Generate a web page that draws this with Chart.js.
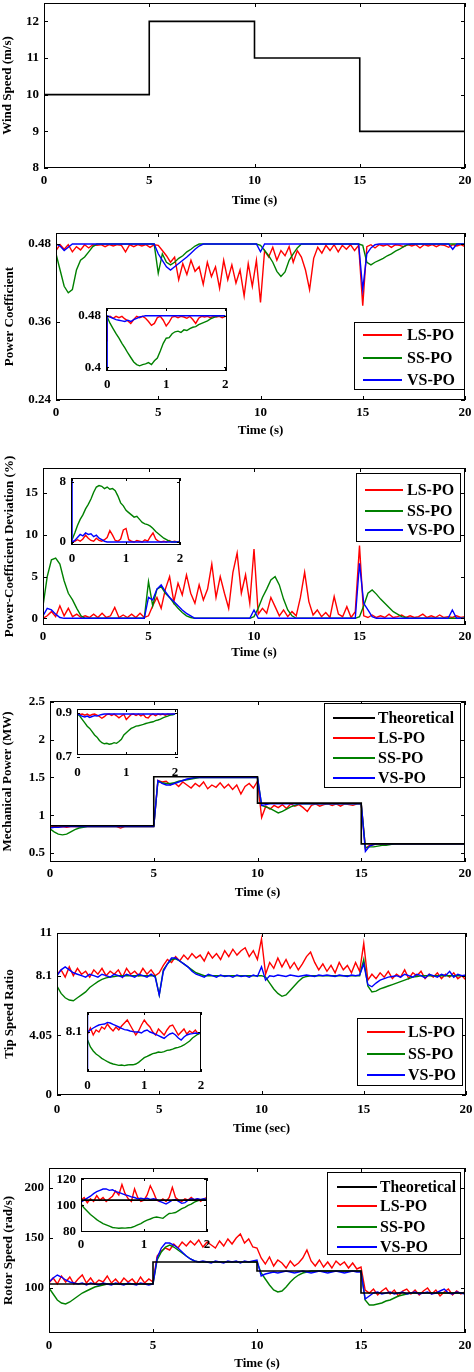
<!DOCTYPE html>
<html lang="en">
<head>
<meta charset="UTF-8">
<title>MPPT comparison - LS-PO / SS-PO / VS-PO</title>
<script src="https://cdn.jsdelivr.net/npm/chart.js"></script>
<style>
  body { margin: 0; background: #fff; }
  #wrap { position: relative; width: 474px; height: 1372px; overflow: hidden; background: #fff; }
  #wrap canvas { position: absolute; }
</style>
</head>
<body>
<div id="wrap"></div>
<script>
// ---------- data ----------
const mainStep = 0.2;   // s between samples of the main traces (0..20 s)
const insetStep = 0.05; // s between samples of the zoomed traces (0..2 s)

const timeTicks = [0, 5, 10, 15, 20];
const insetTimeTicks = [0, 1, 2];

// wind speed profile
const windTimes = [0, 5, 10, 15, 20];
const windValues = [10, 12, 11, 9, 9];
const windTicks = [8, 9, 10, 11, 12];

// power coefficient
const pcTicks = [0.24, 0.36, 0.48];
const pcLS = [
  0.47,0.479,0.472,0.479,0.468,0.476,0.471,0.479,0.474,0.479,0.478,0.479,0.476,0.479,0.477,0.479,0.478,0.468,0.479,0.476,0.479,0.477,0.479,0.475,0.479,0.478,
  0.47,0.462,0.452,0.46,0.425,0.45,0.433,0.455,0.438,0.445,0.418,0.452,0.43,0.445,0.412,0.455,0.425,0.448,0.42,0.44,0.40,0.45,0.415,0.455,0.39,
  0.47,0.46,0.475,0.455,0.47,0.462,0.476,0.452,0.47,0.46,0.44,0.41,0.458,0.475,0.466,0.478,0.47,0.479,0.468,0.478,0.472,0.479,0.47,0.478,0.385,
  0.476,0.479,0.474,0.479,0.477,0.479,0.475,0.479,0.478,0.476,0.479,0.477,0.479,0.474,0.479,0.477,0.479,0.476,0.479,0.478,0.475,0.479,0.477,0.479,0.476
];
const pcSS = [
  0.465,0.44,0.415,0.405,0.41,0.44,0.455,0.46,0.468,0.476,0.48,
  0.48,0.48,0.48,0.48,0.48,0.48,0.48,0.48,0.48,0.48,0.48,0.48,0.48,0.48,
  0.435,
  0.465,0.452,0.448,0.452,0.458,0.462,0.468,0.472,0.477,0.48,
  0.48,0.48,0.48,0.48,0.48,0.48,0.48,0.48,0.48,0.48,0.48,0.48,0.48,0.48,
  0.478,0.47,0.462,0.452,0.438,0.43,0.437,0.455,0.465,0.474,0.48,
  0.48,0.48,0.48,0.48,0.48,0.48,0.48,0.48,0.48,0.48,0.48,0.48,0.48,0.48,
  0.478,0.452,0.448,0.452,0.455,0.458,0.462,0.465,0.469,0.472,0.476,0.479,
  0.48,0.48,0.48,0.48,0.48,0.48,0.48,0.48,0.48,0.48,0.48,0.48,0.48,0.48
];
const pcVSStart = [0.24];
const pcVS = [
  0.48,0.477,0.47,0.475,0.48,
  0.48,0.48,0.48,0.48,0.48,0.48,0.48,0.48,0.48,0.48,0.48,0.48,0.48,0.48,0.48,0.48,0.48,0.48,0.48,0.48,
  0.465,0.455,0.445,0.44,0.445,0.45,0.455,0.46,0.466,0.472,0.477,0.48,
  0.48,0.48,0.48,0.48,0.48,0.48,0.48,0.48,0.48,0.48,0.48,0.48,0.48,
  0.468,0.48,
  0.48,0.48,0.48,0.48,0.48,0.48,0.48,0.48,0.48,0.48,0.48,0.48,0.48,0.48,0.48,0.48,0.48,0.48,0.48,0.48,0.48,0.48,0.48,
  0.41,0.465,0.474,0.479,
  0.48,0.48,0.48,0.48,0.48,0.48,0.48,0.48,0.48,0.48,0.48,0.48,0.48,0.48,0.48,0.48,0.48,0.48,
  0.472,
  0.48,0.48,0.48
];
const pcInTicks = [0.4, 0.48];
const pcInLSStart = [0.44];
const pcInLS = [0.478,0.479,0.476,0.479,0.477,0.479,0.475,0.472,0.468,0.474,0.479,0.477,0.479,0.476,0.471,0.465,0.468,0.477,0.479,0.473,0.464,0.47,0.478,0.479,0.477,0.479,0.478,0.476,0.479,0.474,0.468,0.476,0.479,0.478,0.479,0.477,0.479,0.478,0.479,0.477,0.479];
const pcInSS = [0.478,0.468,0.46,0.452,0.445,0.437,0.43,0.422,0.415,0.408,0.404,0.402,0.404,0.405,0.407,0.404,0.41,0.414,0.425,0.437,0.445,0.446,0.452,0.455,0.456,0.454,0.458,0.457,0.46,0.462,0.463,0.466,0.468,0.47,0.472,0.475,0.477,0.479,0.48,0.48,0.48];
const pcInVSStart = [0.394];
const pcInVS = [0.48,0.478,0.476,0.474,0.473,0.472,0.471,0.473,0.471,0.474,0.476,0.478,0.479,0.48,0.48,0.48,0.48,0.48,0.48,0.48,0.48,0.48,0.48,0.48,0.48,0.48,0.48,0.48,0.48,0.48,0.48,0.48,0.48,0.48,0.48,0.48,0.48,0.48,0.48,0.48,0.48];

// power-coefficient deviation (%)
const devTicks = [0, 5, 10, 15];
const devLS = [
  0,0.3,0.8,0.2,1.5,0.3,1.2,0.2,0.5,0.1,0.3,0.1,0.5,0.1,0.6,0.1,0.3,1.3,0.1,0.4,0.1,0.5,0.1,0.6,0.1,0.3,
  1.5,2.5,1.2,3.5,5.0,2.0,4.2,2.8,5.2,3.0,1.8,4.0,2.2,3.5,6.5,2.5,5.0,3.0,1.2,5.5,7.8,3.0,5.2,1.8,8.3,
  0.5,1.2,0.6,2.5,1.4,0.3,1.0,0.2,0.8,0.3,2.5,5.5,2.0,0.4,1.0,0.2,0.7,0.1,2.6,0.5,0.2,1.4,0.1,0.8,8.7,
  0.3,0.1,0.4,0.1,0.3,0.1,0.5,0.1,0.2,0.4,0.1,0.3,0.1,0.2,0.5,0.1,0.3,0.1,0.4,0.1,0.2,0.1,0.3,0.1,0.2
];
const devSS = [
  1.5,5.0,7.0,7.2,6.5,4.5,3.0,2.2,1.2,0.3,0,
  0,0,0,0,0,0,0,0,0,0,0,0,0,0,
  4.4,1.5,3.5,3.8,3.0,2.5,1.8,1.2,0.7,0.3,0.1,
  0,0,0,0,0,0,0,0,0,0,0,0,0,0,
  0.2,1.2,2.5,3.5,4.6,5.0,4.0,2.3,1.0,0.3,0,
  0,0,0,0,0,0,0,0,0,0,0,0,0,0,
  0.2,1.5,3.0,3.4,2.9,2.3,1.8,1.3,0.8,0.5,0.2,0.1,
  0,0,0,0,0,0,0,0,0,0,0,0,0,0
];
const devVSStart = [6.5];
const devVS = [
  0.3,1.2,1.0,0.5,0.1,
  0,0,0,0,0,0,0,0,0,0,0,0,0,0,0,0,0,0,0,0,
  2.5,2.2,3.5,4.0,3.2,2.5,2.0,1.5,1.0,0.6,0.3,0,
  0,0,0,0,0,0,0,0,0,0,0,0,0,
  1.0,
  0,0,0,0,0,0,0,0,0,0,0,0,0,0,0,0,0,0,0,0,0,0,0,0,
  6.6,1.8,1.0,0.2,
  0,0,0,0,0,0,0,0,0,0,0,0,0,0,0,0,0,0,
  1.0,
  0,0,0
];
const devInTicks = [0, 8];
const devInLS = [0,0.1,0.3,0.1,0.4,0.9,0.5,0.2,0.1,0.5,0.2,0.1,0.3,0.6,1.5,0.9,0.2,0.1,0.4,1.6,1.8,0.3,0.1,0,0.2,0.1,0,0.3,0.1,0.7,1.2,0.4,0.1,0,0.1,0,0.2,0,0.1,0,0.1];
const devInSS = [0.3,1.2,2.2,3.0,3.6,4.4,5.0,5.7,6.6,7.3,7.5,7.4,7.1,7.3,7.0,7.1,6.8,6.1,5.2,4.8,4.2,3.9,3.6,3.3,3.4,3.0,2.6,2.4,2.3,2.1,1.8,1.4,1.1,0.8,0.5,0.3,0.1,0.05,0,0,0];
const devInVSStart = [8.5];
const devInVS = [0,0.2,0.6,1.0,0.8,1.2,1.0,1.1,0.7,0.9,0.5,0.3,0.1,0,0,0,0,0,0,0,0,0,0,0,0,0,0,0,0,0,0,0,0,0,0,0,0,0,0,0,0];

// mechanical power (MW)
const mpTicks = [0.5, 1, 1.5, 2, 2.5];
const mpTheoTimes = [0, 5, 10, 15, 20];
const mpTheo = [0.86, 1.51, 1.16, 0.62, 0.62];
const mpLS = [
  0.84,0.85,0.845,0.85,0.84,0.85,0.85,0.848,0.85,0.85,0.85,0.85,0.85,0.85,0.85,0.85,0.85,0.83,0.85,0.85,0.85,0.85,0.85,0.85,0.85,0.85,
  1.46,1.44,1.45,1.40,1.43,1.38,1.44,1.40,1.36,1.42,1.38,1.44,1.35,1.40,1.37,1.43,1.36,1.41,1.34,1.40,1.28,1.38,1.42,1.36,1.45,
  0.97,1.12,1.08,1.13,1.10,1.14,1.09,1.15,1.12,1.14,1.10,1.05,1.13,1.15,1.12,1.14,1.15,1.13,1.15,1.12,1.15,1.14,1.13,1.15,1.15,
  0.56,0.60,0.61,0.62,0.62,0.62,0.62,0.62,0.62,0.62,0.62,0.62,0.62,0.62,0.62,0.62,0.62,0.62,0.62,0.62,0.62,0.62,0.62,0.62,0.62
];
const mpSS = [
  0.82,0.78,0.75,0.74,0.75,0.78,0.81,0.83,0.84,0.85,
  0.85,0.85,0.85,0.85,0.85,0.85,0.85,0.85,0.85,0.85,0.85,0.85,0.85,0.85,0.85,0.85,
  1.45,1.43,1.42,1.42,1.43,1.45,1.46,1.47,1.48,1.49,
  1.5,1.5,1.5,1.5,1.5,1.5,1.5,1.5,1.5,1.5,1.5,1.5,1.5,1.5,1.5,
  1.13,1.11,1.09,1.06,1.03,1.05,1.08,1.11,1.13,1.15,
  1.15,1.15,1.15,1.15,1.15,1.15,1.15,1.15,1.15,1.15,1.15,1.15,1.15,1.15,1.15,
  0.57,0.58,0.58,0.59,0.6,0.6,0.61,0.62,
  0.62,0.62,0.62,0.62,0.62,0.62,0.62,0.62,0.62,0.62,0.62,0.62,0.62,0.62,0.62,0.62,0.62
];
const mpVS = [
  0.83,0.84,0.84,0.845,0.85,
  0.85,0.85,0.85,0.85,0.85,0.85,0.85,0.85,0.85,0.85,0.85,0.85,0.85,0.85,0.85,0.85,0.85,0.85,0.85,0.85,0.85,
  1.46,1.42,1.40,1.40,1.42,1.44,1.46,1.48,1.49,
  1.5,1.5,1.5,1.5,1.5,1.5,1.5,1.5,1.5,1.5,1.5,1.5,1.5,1.5,1.5,1.5,
  1.13,1.14,
  1.15,1.15,1.15,1.15,1.15,1.15,1.15,1.15,1.15,1.15,1.15,1.15,1.15,1.15,1.15,1.15,1.15,1.15,1.15,1.15,1.15,1.15,1.15,
  0.52,0.59,0.61,
  0.62,0.62,0.62,0.62,0.62,0.62,0.62,0.62,0.62,0.62,0.62,0.62,0.62,0.62,0.62,0.62,0.62,0.62,0.62,0.62,0.62,0.62
];
const mpInTicks = [0.7, 0.9];
const mpInLS = [0.895,0.893,0.895,0.89,0.895,0.888,0.893,0.895,0.89,0.884,0.876,0.883,0.893,0.895,0.889,0.895,0.887,0.878,0.886,0.894,0.87,0.882,0.893,0.895,0.889,0.895,0.887,0.893,0.88,0.877,0.89,0.895,0.888,0.895,0.892,0.895,0.89,0.895,0.893,0.895,0.894];
const mpInSS = [0.895,0.885,0.87,0.855,0.84,0.83,0.815,0.80,0.79,0.775,0.765,0.76,0.762,0.758,0.76,0.765,0.762,0.77,0.78,0.8,0.81,0.82,0.83,0.835,0.84,0.842,0.845,0.848,0.852,0.855,0.858,0.86,0.865,0.868,0.872,0.878,0.882,0.886,0.89,0.892,0.895];
const mpInVS = [0.895,0.89,0.885,0.882,0.886,0.88,0.884,0.888,0.886,0.89,0.893,0.895,0.895,0.895,0.895,0.895,0.895,0.895,0.895,0.895,0.895,0.895,0.895,0.895,0.895,0.895,0.895,0.895,0.895,0.895,0.895,0.895,0.895,0.895,0.895,0.895,0.895,0.895,0.895,0.895,0.895];

// tip speed ratio
const tsrTicks = [0, 4.05, 8.1, 11];
const tsrLS = [
  8.2,8.5,8.0,8.7,8.1,8.6,8.2,8.4,8.0,8.5,8.2,8.6,8.1,8.4,8.2,8.5,8.0,8.6,8.2,8.4,8.1,8.6,8.2,8.5,8.1,8.3,
  8.8,9.2,9.0,9.4,9.1,9.5,9.2,9.6,9.3,9.5,9.1,9.7,9.3,9.6,9.2,9.8,9.4,9.9,9.5,9.8,10.0,9.4,9.8,9.2,10.6,
  8.2,9.0,8.6,9.3,8.7,9.2,8.6,9.0,8.5,8.9,9.4,9.7,9.0,8.5,8.9,8.4,8.8,8.3,9.0,8.5,8.8,8.3,9.0,8.4,10.3,
  7.8,8.2,7.9,8.3,8.0,8.4,7.9,8.2,8.0,8.5,7.9,8.3,8.1,8.4,7.9,8.2,8.0,8.3,7.9,8.2,8.0,8.3,7.9,8.1,7.8
];
const tsrSS = [
  7.4,6.9,6.6,6.45,6.4,6.6,6.8,7.0,7.3,7.5,7.7,7.85,7.95,8.0,8.05,
  8.1,8.1,8.1,8.1,8.1,8.1,8.1,8.1,8.1,8.1,
  6.8,
  8.5,8.9,9.2,9.25,9.1,8.9,8.7,8.5,8.3,8.2,
  8.1,8.1,8.1,8.1,8.1,8.1,8.1,8.1,8.1,8.1,8.1,8.1,8.1,8.1,8.1,
  8.0,7.6,7.2,6.9,6.7,6.8,7.1,7.4,7.7,7.95,8.05,
  8.1,8.1,8.1,8.1,8.1,8.1,8.1,8.1,8.1,8.1,8.1,8.1,8.1,
  9.2,
  7.4,7.0,7.05,7.2,7.3,7.4,7.5,7.6,7.7,7.8,7.9,8.0,8.05,
  8.1,8.1,8.1,8.1,8.1,8.1,8.1,8.1,8.1,8.1,8.1,8.1
];
const tsrVSStart = [0, 11];
const tsrVS = [
  8.1,8.5,8.7,8.5,8.3,8.2,8.1,8.0,8.2,8.1,8.0,8.2,8.1,8.0,8.2,8.1,8.0,8.2,8.1,8.0,8.2,8.1,8.0,8.2,8.0,6.8,
  8.4,8.9,9.3,9.3,9.1,8.9,8.7,8.4,8.2,8.1,8.0,8.2,8.1,8.0,8.15,8.05,8.1,8.0,8.15,8.05,8.1,8.0,8.15,8.05,8.7,
  7.8,8.1,8.05,8.15,8.1,8.05,8.15,8.1,8.05,8.1,8.15,8.1,8.05,8.15,8.1,8.15,8.1,8.05,8.15,8.1,8.05,8.15,8.1,8.15,8.9,
  7.5,7.35,7.6,7.8,7.9,8.0,8.05,8.1,8.0,8.2,8.1,8.0,8.2,8.1,7.95,8.2,8.1,8.0,8.2,8.1,8.4,8.0,8.2,8.1,8.15
];
const tsrInTicks = [8.1];
const tsrInLS = [8.0,8.3,7.95,8.2,8.1,8.35,8.25,8.5,8.3,8.15,8.35,8.2,8.4,8.55,8.7,8.45,8.2,7.95,8.15,8.45,8.7,8.5,8.35,8.1,7.95,8.25,8.1,7.95,8.2,8.4,8.45,8.2,7.95,8.1,8.25,8.0,8.15,8.05,8.2,8.0,8.1];
const tsrInSS = [7.7,7.35,7.15,7.0,6.9,6.78,6.7,6.62,6.55,6.5,6.47,6.43,6.45,6.42,6.45,6.47,6.46,6.5,6.58,6.7,6.82,6.88,6.95,7.02,7.05,7.1,7.08,7.12,7.18,7.2,7.24,7.3,7.33,7.38,7.45,7.55,7.65,7.8,7.9,8.0,8.05];
const tsrInVSStart = [6.0, 9.2];
const tsrInVS = [8.1,8.2,8.3,8.38,8.45,8.48,8.5,8.58,8.55,8.48,8.42,8.35,8.28,8.22,8.2,8.15,8.12,8.1,8.1,8.05,8.15,8.2,8.1,8.05,7.98,7.92,7.85,7.78,7.9,8.0,8.05,7.95,7.8,7.7,7.85,7.95,8.0,8.02,8.05,8.03,8.05];

// rotor speed (rad/s)
const rsTicks = [100, 150, 200];
const rsTheoTimes = [0, 0, 5, 10, 15, 20];
const rsTheo = [56, 104, 126, 117, 95, 95];
const rsLS = [
  105,110,104,112,106,111,104,109,113,105,110,104,108,106,112,105,109,104,110,106,109,104,111,105,109,106,
  132,137,140,138,144,140,146,142,147,143,148,141,146,143,140,147,142,149,144,150,154,145,149,141,140,
  130,124,131,122,128,125,120,127,122,125,130,138,127,122,128,121,126,120,127,123,126,120,125,119,121,
  98,95,99,93,97,100,94,98,92,97,99,94,98,93,97,100,94,98,92,96,99,93,97,94,96
];
const rsSS = [
  100,94,88,85,84,86,89,92,95,97,99,101,102,103,104,
  104,104,104,104,104,104,104,104,104,104,104,
  128,136,141,143,141,138,135,132,129,127,126,
  126,126,126,126,126,126,126,126,126,126,126,126,126,126,
  115,109,103,98,96,97,101,106,110,113,115,116,
  117,117,117,117,117,117,117,117,117,117,117,117,117,
  88,83,83,84,85,87,88,90,92,93,94,95,
  95,95,95,95,95,95,95,95,95,95,95,95,95
];
const rsVSStart = [133];
const rsVS = [
  106,110,113,111,108,106,105,104,105,103,105,104,103,105,104,103,105,104,103,105,104,103,105,104,103,104,
  130,140,145,145,143,140,136,132,129,127,126,127,126,125,127,126,125,127,126,127,125,127,126,127,128,
  112,114,115,116,115,116,117,116,115,116,117,116,115,116,117,116,115,116,117,116,115,116,117,116,116,
  89,92,95,96,94,95,96,94,95,96,94,95,96,94,95,96,94,95,97,99,95,94,96,95,94
];
const rsInTicks = [80, 100, 120];
const rsInTheoTimes = [0, 2];
const rsInTheo = [104, 104];
const rsInLS = [104,106,102,105,103,107.5,104,106,103,105,107,111,108,116,109,105,103,112.6,106,103,104,108,115,110,104,103,105,103,106,113.8,106,104,103,105,104,106,104,105,103,105,106];
const rsInSS = [101,98,95.5,93,91,89,87.4,86,85,84,83,82.7,82.4,82.6,82.5,82.8,83,83.8,85,86,87.5,88.7,89.5,90.5,91,90.5,90,92,93.7,94,94.5,96,97.5,98.5,100,101,102.5,103.5,104.3,104.5,104.5];
const rsInVSStart = [79];
const rsInVS = [102.5,104,105.5,107,109,110.5,111.5,112.5,112.6,111.5,112,110.5,110,109,108,107.5,106.5,106,105,105.5,105,105.5,104.5,105,104.5,103,102,101,102.5,104,104.5,103,101.5,102,104,105,104.5,105,104.5,105,104.5];

// ---------- helpers ----------
const RED = '#ff0000', GREEN = '#008000', BLUE = '#0000ff', BLACK = '#000000';
const FONT_FAMILY = "'Liberation Serif', 'Times New Roman', serif";
const TICK_FONT = { family: FONT_FAMILY, size: 13, weight: 'bold' };
const wrap = document.getElementById('wrap');

function pts(values, step, start) {
  const out = (start || []).map(v => ({ x: 0, y: v }));
  values.forEach((v, i) => out.push({ x: +(i * step).toFixed(2), y: v }));
  return out;
}
function pairs(times, values) {
  return times.map((t, i) => ({ x: t, y: values[i] }));
}
function trace(label, color, data, order, extra) {
  return Object.assign({ label, data, borderColor: color, backgroundColor: color, borderWidth: 1.4,
    pointRadius: 0, fill: false, tension: 0, order }, extra || {});
}
function theo(data) {
  return trace('Theoretical', BLACK, data, -1, { stepped: true, borderWidth: 1.6 });
}

function makeCanvas(x, y, w, h) {
  const c = document.createElement('canvas');
  c.width = w; c.height = h;
  c.style.left = x + 'px'; c.style.top = y + 'px';
  c.style.width = w + 'px'; c.style.height = h + 'px';
  wrap.appendChild(c);
  return c;
}

function xAxis(range, ticks, fitH, pad, title) {
  return {
    type: 'linear', min: range[0], max: range[1],
    afterBuildTicks: s => { s.ticks = ticks.map(v => ({ value: v })); },
    afterFit: s => { s.height = fitH; s.paddingLeft = 0; s.paddingRight = 0; },
    ticks: { font: TICK_FONT, color: '#000', padding: pad, maxRotation: 0, autoSkip: false, callback: v => String(v) },
    grid: { display: false, drawTicks: false },
    border: { display: false },
    title: title ? { display: true, text: title, color: '#000', font: TICK_FONT, padding: 0 } : { display: false }
  };
}
function yAxis(range, ticks, fitW, pad, title, titlePad) {
  return {
    type: 'linear', min: range[0], max: range[1],
    afterBuildTicks: s => { s.ticks = ticks.map(v => ({ value: v })); },
    afterFit: s => { s.width = fitW; s.paddingTop = 0; s.paddingBottom = 0; },
    ticks: { font: TICK_FONT, color: '#000', padding: pad, autoSkip: false, callback: v => String(v) },
    grid: { display: false, drawTicks: false },
    border: { display: false },
    title: title ? { display: true, text: title, color: '#000', font: TICK_FONT, padding: { top: titlePad, bottom: 0 } } : { display: false }
  };
}

// box with inward ticks + optional white plot background + legend box
const framePlugin = {
  id: 'frame',
  beforeDatasetsDraw(chart, args, opts) {
    if (!opts.fill) return;
    const a = chart.chartArea, ctx = chart.ctx;
    ctx.save();
    ctx.fillStyle = opts.fill;
    ctx.fillRect(a.left, a.top, a.right - a.left, a.bottom - a.top);
    ctx.restore();
  },
  afterDatasetsDraw(chart, args, opts) {
    const { ctx, chartArea: a, scales: { x, y } } = chart;
    const len = opts.tick;
    ctx.save();
    ctx.strokeStyle = '#000';
    ctx.lineWidth = 1;
    ctx.strokeRect(a.left + 0.5, a.top + 0.5, a.right - a.left - 1, a.bottom - a.top - 1);
    ctx.beginPath();
    x.ticks.forEach(t => {
      const px = Math.round(x.getPixelForValue(t.value)) + 0.5;
      ctx.moveTo(px, a.bottom); ctx.lineTo(px, a.bottom - len);
      ctx.moveTo(px, a.top); ctx.lineTo(px, a.top + len);
    });
    y.ticks.forEach(t => {
      const py = Math.round(y.getPixelForValue(t.value)) + 0.5;
      ctx.moveTo(a.left, py); ctx.lineTo(a.left + len, py);
      ctx.moveTo(a.right, py); ctx.lineTo(a.right - len, py);
    });
    ctx.stroke();

    const lg = opts.legend;
    if (lg) {
      const dy = opts.top;
      const [x1, y1, x2, y2] = lg.box;
      ctx.fillStyle = '#fff';
      ctx.fillRect(x1, y1 - dy, x2 - x1, y2 - y1);
      ctx.strokeRect(x1 + 0.5, y1 - dy + 0.5, x2 - x1 - 1, y2 - y1 - 1);
      ctx.font = "bold 16px 'Liberation Serif', serif";
      ctx.textBaseline = 'middle';
      ctx.textAlign = 'left';
      chart.data.datasets.forEach((ds, i) => {
        const ry = lg.rows[i] - dy;
        ctx.strokeStyle = ds.borderColor;
        ctx.lineWidth = 2;
        ctx.beginPath();
        ctx.moveTo(lg.line[0], ry); ctx.lineTo(lg.line[1], ry);
        ctx.stroke();
        ctx.fillStyle = '#000';
        ctx.fillText(ds.label, lg.text, ry + 1, lg.maxText || 200);
      });
    }
    ctx.restore();
  }
};

function buildPanel(p) {
  const h = p.bottom - p.top, b = p.box;
  const cv = makeCanvas(0, p.top, 474, h);
  return new Chart(cv, {
    type: 'line',
    data: { datasets: p.datasets },
    options: {
      responsive: false, animation: false, events: [],
      layout: { padding: { top: b.t - p.top, right: 474 - b.r, bottom: 0, left: 0 } },
      plugins: { legend: { display: false }, tooltip: { enabled: false },
        frame: { tick: 4, top: p.top, legend: p.legend || null } },
      scales: {
        x: xAxis(p.x, timeTicks, p.bottom - b.b, p.xPad, p.xTitle),
        y: yAxis(p.y, p.yTicks, b.l, 5, p.yTitle, p.yTitlePad)
      }
    },
    plugins: [framePlugin]
  });
}

function buildInset(p) {
  const b = p.box;
  const left = b.l - 36, top = b.t - 10;
  const w = b.r - left + 10, h = b.b - top + 26;
  const cv = makeCanvas(left, top, w, h);
  return new Chart(cv, {
    type: 'line',
    data: { datasets: p.datasets },
    options: {
      responsive: false, animation: false, events: [],
      layout: { padding: { top: 10, right: 10, bottom: 0, left: 0 } },
      plugins: { legend: { display: false }, tooltip: { enabled: false }, frame: { tick: 3, fill: '#fff' } },
      scales: {
        x: xAxis(p.x, insetTimeTicks, 26, p.xPad, null),
        y: yAxis(p.y, p.yTicks, 36, 5, null, 0)
      }
    },
    plugins: [framePlugin]
  });
}

function mppt(ls, ss, vs, step, vsStart, lsStart) {
  return [
    trace('LS-PO', RED, pts(ls, step, lsStart), 2),
    trace('SS-PO', GREEN, pts(ss, step), 1),
    trace('VS-PO', BLUE, pts(vs, step, vsStart), 0)
  ];
}

// ---------- main panels ----------
buildPanel({
  top: 0, bottom: 208, box: { l: 44, t: 3, r: 465, b: 168 }, x: [0, 20], y: [8, 12.5],
  yTicks: windTicks, xPad: 5, xTitle: 'Time (s)', yTitle: 'Wind Speed (m/s)', yTitlePad: 0,
  datasets: [trace('Wind speed', BLACK, pairs(windTimes, windValues), 0, { stepped: true, borderWidth: 1.6 })]
});

buildPanel({
  top: 213, bottom: 438, box: { l: 56, t: 233, r: 465, b: 400 }, x: [0, 20], y: [0.24, 0.497],
  yTicks: pcTicks, xPad: 5, xTitle: 'Time (s)', yTitle: 'Power Coefficient', yTitlePad: 2,
  datasets: mppt(pcLS, pcSS, pcVS, mainStep, pcVSStart),
  legend: { box: [354, 322, 465, 390], rows: [335, 358, 380], line: [363, 402], text: 407 }
});

buildPanel({
  top: 440, bottom: 660, box: { l: 43, t: 468, r: 465, b: 625 }, x: [0, 20], y: [-0.8, 18],
  yTicks: devTicks, xPad: 4, xTitle: 'Time (s)', yTitle: 'Power-Coefficient Deviation (%)', yTitlePad: 2,
  datasets: mppt(devLS, devSS, devVS, mainStep, devVSStart),
  legend: { box: [356, 473, 461, 542], rows: [490, 511, 530], line: [365, 403], text: 407 }
});

buildPanel({
  top: 685, bottom: 900, box: { l: 50, t: 701, r: 465, b: 862 }, x: [0, 20], y: [0.38, 2.513],
  yTicks: mpTicks, xPad: 4, xTitle: 'Time (s)', yTitle: 'Mechanical Power (MW)', yTitlePad: 0,
  datasets: [theo(pairs(mpTheoTimes, mpTheo))].concat(mppt(mpLS, mpSS, mpVS, mainStep)),
  legend: { box: [324, 703, 461, 788], rows: [718, 738, 758, 778], line: [333, 375], text: 378, maxText: 76 }
});

buildPanel({
  top: 915, bottom: 1136, box: { l: 57, t: 933, r: 466, b: 1095 }, x: [0, 20], y: [0, 11],
  yTicks: tsrTicks, xPad: 7, xTitle: 'Time (sec)', yTitle: 'Tip Speed Ratio', yTitlePad: 2,
  datasets: mppt(tsrLS, tsrSS, tsrVS, mainStep, tsrVSStart),
  legend: { box: [357, 1018, 463, 1086], rows: [1032, 1054, 1075], line: [367, 405], text: 408 }
});

buildPanel({
  top: 1150, bottom: 1371, box: { l: 49, t: 1168, r: 465, b: 1333 }, x: [0, 20], y: [55, 220],
  yTicks: rsTicks, xPad: 5, xTitle: 'Time (s)', yTitle: 'Rotor Speed (rad/s)', yTitlePad: 1,
  datasets: [theo(pairs(rsTheoTimes, rsTheo))].concat(mppt(rsLS, rsSS, rsVS, mainStep, rsVSStart)),
  legend: { box: [327, 1172, 461, 1255], rows: [1187, 1206, 1227, 1247], line: [337, 377], text: 380, maxText: 76 }
});

// ---------- zoomed insets (0-2 s) ----------
buildInset({
  box: { l: 106, t: 308, r: 227, b: 371 }, x: [-0.02, 2.03], y: [0.394, 0.492], yTicks: pcInTicks, xPad: 6,
  datasets: mppt(pcInLS, pcInSS, pcInVS, insetStep, pcInVSStart, pcInLSStart)
});
buildInset({
  box: { l: 71, t: 478, r: 180, b: 545 }, x: [-0.02, 2.0], y: [-0.4, 8.5], yTicks: devInTicks, xPad: 6,
  datasets: mppt(devInLS, devInSS, devInVS, insetStep, devInVSStart)
});
buildInset({
  box: { l: 77, t: 709, r: 178, b: 755 }, x: [-0.01, 2.06], y: [0.709, 0.918], yTicks: mpInTicks, xPad: 10,
  datasets: mppt(mpInLS, mpInSS, mpInVS, insetStep)
});
buildInset({
  box: { l: 87, t: 1012, r: 201, b: 1072 }, x: [-0.01, 2.0], y: [6.1, 9.1], yTicks: tsrInTicks, xPad: 6,
  datasets: mppt(tsrInLS, tsrInSS, tsrInVS, insetStep, tsrInVSStart)
});
buildInset({
  box: { l: 81, t: 1178, r: 207, b: 1232 }, x: [0, 2.0], y: [79.5, 121], yTicks: rsInTicks, xPad: 5,
  datasets: [theo(pairs(rsInTheoTimes, rsInTheo))].concat(mppt(rsInLS, rsInSS, rsInVS, insetStep, rsInVSStart))
});
</script>
</body>
</html>
